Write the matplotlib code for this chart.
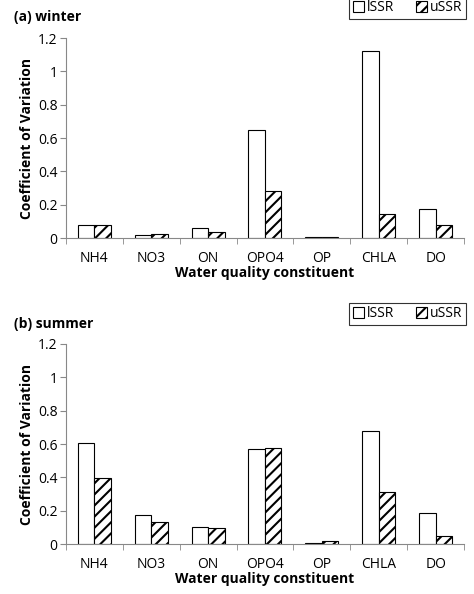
import matplotlib
matplotlib.use("Agg")
import matplotlib.pyplot as plt
import numpy as np

categories = ["NH4", "NO3", "ON", "OPO4", "OP", "CHLA", "DO"]
winter_lssr = [0.078, 0.02, 0.062, 0.648, 0.01, 1.125, 0.178]
winter_ussr = [0.082, 0.027, 0.037, 0.28, 0.01, 0.148, 0.08]
summer_lssr = [0.605, 0.175, 0.103, 0.57, 0.007, 0.68, 0.188]
summer_ussr = [0.395, 0.133, 0.097, 0.577, 0.02, 0.31, 0.05]
yticks = [0, 0.2, 0.4, 0.6, 0.8, 1, 1.2]
ytick_labels = ["0", "0.2", "0.4", "0.6", "0.8", "1", "1.2"]

plt.rcParams['font.family'] = ['Open Sans', 'DejaVu Sans']
plt.rcParams['hatch.color'] = '#666666'
plt.rcParams['hatch.linewidth'] = 1.5

fig = plt.figure(figsize=(4.74, 5.94), dpi=100)
panels = [
    ([0.139, 0.599, 0.840, 0.337], winter_lssr, winter_ussr, "(a) winter", 0.983),
    ([0.139, 0.084, 0.840, 0.337], summer_lssr, summer_ussr, "(b) summer", 0.467),
]
x = np.arange(len(categories))
w = 0.29
for rect, l, u, title, ty in panels:
    ax = fig.add_axes(rect)
    ax.bar(x - w/2, l, w, facecolor='white', edgecolor='black', linewidth=0.8, label='lSSR')
    ax.bar(x + w/2, u, w, facecolor='white', edgecolor='black', linewidth=0.8, hatch='///', label='uSSR')
    ax.set_xlim(-0.5, len(categories) - 0.5)
    ax.set_ylim(0, 1.2)
    ax.set_yticks(yticks)
    ax.set_yticklabels(ytick_labels, fontsize=10)
    ax.set_xticks(x)
    ax.set_xticklabels(categories, fontsize=10)
    ax.set_xticks(np.arange(len(categories) + 1) - 0.5, minor=True)
    ax.tick_params(axis='x', which='major', length=0, pad=9)
    ax.tick_params(axis='x', which='minor', length=4, direction='out', color='#888888')
    ax.tick_params(axis='y', length=4, direction='out', color='#888888', pad=2)
    for s in ['top', 'right']:
        ax.spines[s].set_visible(False)
    for s in ['left', 'bottom']:
        ax.spines[s].set_color('#888888')
    ax.set_xlabel("Water quality constituent", fontsize=10, fontweight='bold', labelpad=0)
    ax.set_ylabel("Coefficient of Variation", fontsize=10, fontweight='bold', labelpad=3)
    fig.text(0.03, ty, title, fontsize=10, fontweight='bold', va='top')
    leg = ax.legend(loc='upper right', bbox_to_anchor=(1.005, 1.205), ncol=2, fontsize=10,
                    frameon=True, fancybox=False, edgecolor='black', handlelength=0.8,
                    handleheight=0.8, handletextpad=0.2, columnspacing=1.6, borderpad=0.25,
                    borderaxespad=0)
    leg.get_frame().set_linewidth(0.8)
    # pad legend to approximate wider box
    leg._legend_box.align = "center"

fig.savefig("out.png", dpi=100)
